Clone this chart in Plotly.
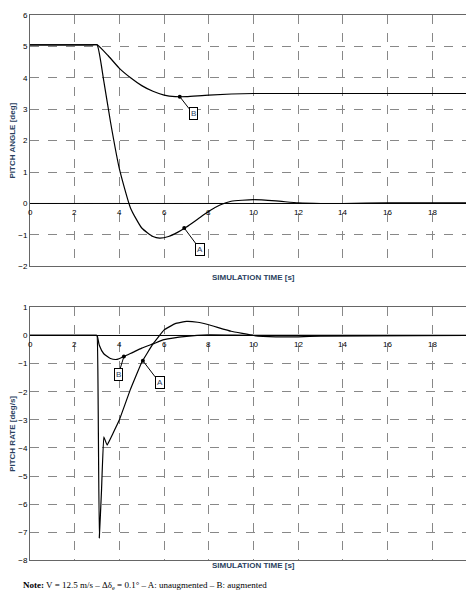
import plotly.graph_objects as go

tA = [0, 2.8, 3, 3.3, 3.6, 4, 4.5, 5, 5.5, 5.8, 6.2, 6.6, 7, 7.5, 8, 8.5, 9, 10, 11, 12, 13, 14, 16, 20]
thA = [5.05, 5.05, 5.05, 3.9, 2.6, 1.1, -0.15, -0.78, -1.05, -1.1, -1.05, -0.92, -0.75, -0.5, -0.25, -0.05, 0.07, 0.12, 0.08, 0.02, 0.0, 0.0, 0.02, 0.02]
tB = [0, 2.8, 3, 3.5, 4, 4.5, 5, 5.5, 6, 6.5, 7, 8, 10, 20]
thB = [5.05, 5.05, 5.05, 4.7, 4.3, 4.0, 3.75, 3.57, 3.45, 3.4, 3.4, 3.45, 3.5, 3.5]

tqA = [0, 2.9, 3, 3.05, 3.1, 3.2, 3.3, 3.45, 3.7, 4, 4.5, 5, 5.5, 6, 6.5, 7, 7.5, 8, 9, 10, 11, 12, 13, 20]
qA = [0, 0, 0, -2.5, -7.2, -5.5, -3.6, -3.9, -3.5, -3.0, -1.9, -0.95, -0.3, 0.2, 0.42, 0.5, 0.47, 0.38, 0.15, 0.0, -0.05, -0.05, -0.02, 0]
tqB = [0, 2.9, 3, 3.1, 3.3, 3.6, 3.9, 4.2, 4.6, 5, 5.5, 6, 7, 8, 10, 20]
qB = [0, 0, 0, -0.35, -0.65, -0.82, -0.85, -0.75, -0.6, -0.45, -0.3, -0.15, -0.03, 0.02, 0, 0]

xticks = list(range(0, 21, 2))

fig = go.Figure()
line = dict(color="black", width=1.2, shape="spline", smoothing=0.5)
fig.add_trace(go.Scatter(x=tA, y=thA, mode="lines", line=line, xaxis="x", yaxis="y"))
fig.add_trace(go.Scatter(x=tB, y=thB, mode="lines", line=line, xaxis="x", yaxis="y"))
fig.add_trace(go.Scatter(x=tqA, y=qA, mode="lines", line=dict(color="black", width=1.2, shape="spline", smoothing=0.2), xaxis="x2", yaxis="y2"))
fig.add_trace(go.Scatter(x=tqB, y=qB, mode="lines", line=line, xaxis="x2", yaxis="y2"))
fig.add_trace(go.Scatter(x=[6.7, 6.9], y=[3.4, -0.78], mode="markers", marker=dict(color="black", size=4), xaxis="x", yaxis="y"))
fig.add_trace(go.Scatter(x=[4.2, 5.05], y=[-0.75, -0.9], mode="markers", marker=dict(color="black", size=4), xaxis="x2", yaxis="y2"))

tf = dict(family="Liberation Sans", size=8, color="black")
ax = dict(range=[0, 20], tickvals=xticks, showgrid=True, gridcolor="#888", griddash="dash",
          gridwidth=0.8, zeroline=False, showline=True, linecolor="#666", mirror=True,
          showticklabels=False, ticks="")
ay = dict(showgrid=True, gridcolor="#888", griddash="dash", zeroline=False, showline=True,
          linecolor="#666", mirror=True, tickfont=tf, ticks="", dtick=1)
fig.update_layout(
    width=474, height=595, showlegend=False, plot_bgcolor="white", paper_bgcolor="white",
    margin=dict(l=22, r=5, t=0, b=0),
    xaxis=dict(ax, domain=[0, 1], anchor="y"),
    yaxis=dict(ay, range=[-2, 6], domain=[0.566, 0.995],
               title=dict(text="<b>PITCH ANGLE [deg]</b>", font=dict(family="Liberation Sans", size=8), standoff=2)),
    xaxis2=dict(ax, domain=[0, 1], anchor="y2"),
    yaxis2=dict(ay, range=[-8, 1], domain=[0.064, 0.496],
                title=dict(text="<b>PITCH RATE [deg/s]</b>", font=dict(family="Liberation Sans", size=8), standoff=2)),
)
for t in xticks:
    for xr, yr in (("x", "y"), ("x2", "y2")):
        fig.add_annotation(x=t, y=0, xref=xr, yref=yr, text=str(t), showarrow=False,
                           yshift=-9, font=tf)
for xr, yr in (("x", "y"), ("x2", "y2")):
    fig.add_shape(type="line", x0=0, x1=20, y0=0, y1=0, xref=xr, yref=yr,
                  line=dict(color="black", width=1))

def lab(x, y, ax_, ay_, text, xr, yr):
    fig.add_annotation(x=x, y=y, ax=ax_, ay=ay_, xref=xr, yref=yr, axref=xr, ayref=yr,
                       text=text, showarrow=True, arrowhead=0, arrowwidth=1, arrowcolor="black",
                       bordercolor="black", borderwidth=1, borderpad=1, bgcolor="white",
                       font=dict(family="Liberation Sans", size=8))

lab(6.7, 3.4, 7.3, 2.85, "B", "x", "y")
lab(6.9, -0.78, 7.6, -1.45, "A", "x", "y")
lab(4.2, -0.75, 3.95, -1.4, "B", "x2", "y2")
lab(5.05, -0.9, 5.8, -1.68, "A", "x2", "y2")

fig.add_annotation(x=0.5, y=0.547, xref="paper", yref="paper", text="<b>SIMULATION TIME [s]</b>",
                   showarrow=False, font=dict(family="Liberation Sans", size=8))
fig.add_annotation(x=0.5, y=0.045, xref="paper", yref="paper", text="<b>SIMULATION TIME [s]</b>",
                   showarrow=False, font=dict(family="Liberation Sans", size=8))
fig.add_annotation(x=-0.02, y=0.008, xref="paper", yref="paper", xanchor="left",
                   text="<b>Note:</b> V = 12.5 m/s – Δδ<sub>e</sub> = 0.1° – A: unaugmented – B: augmented",
                   showarrow=False, font=dict(family="Liberation Serif", size=9, color="black"))

fig.write_html("out.html")
